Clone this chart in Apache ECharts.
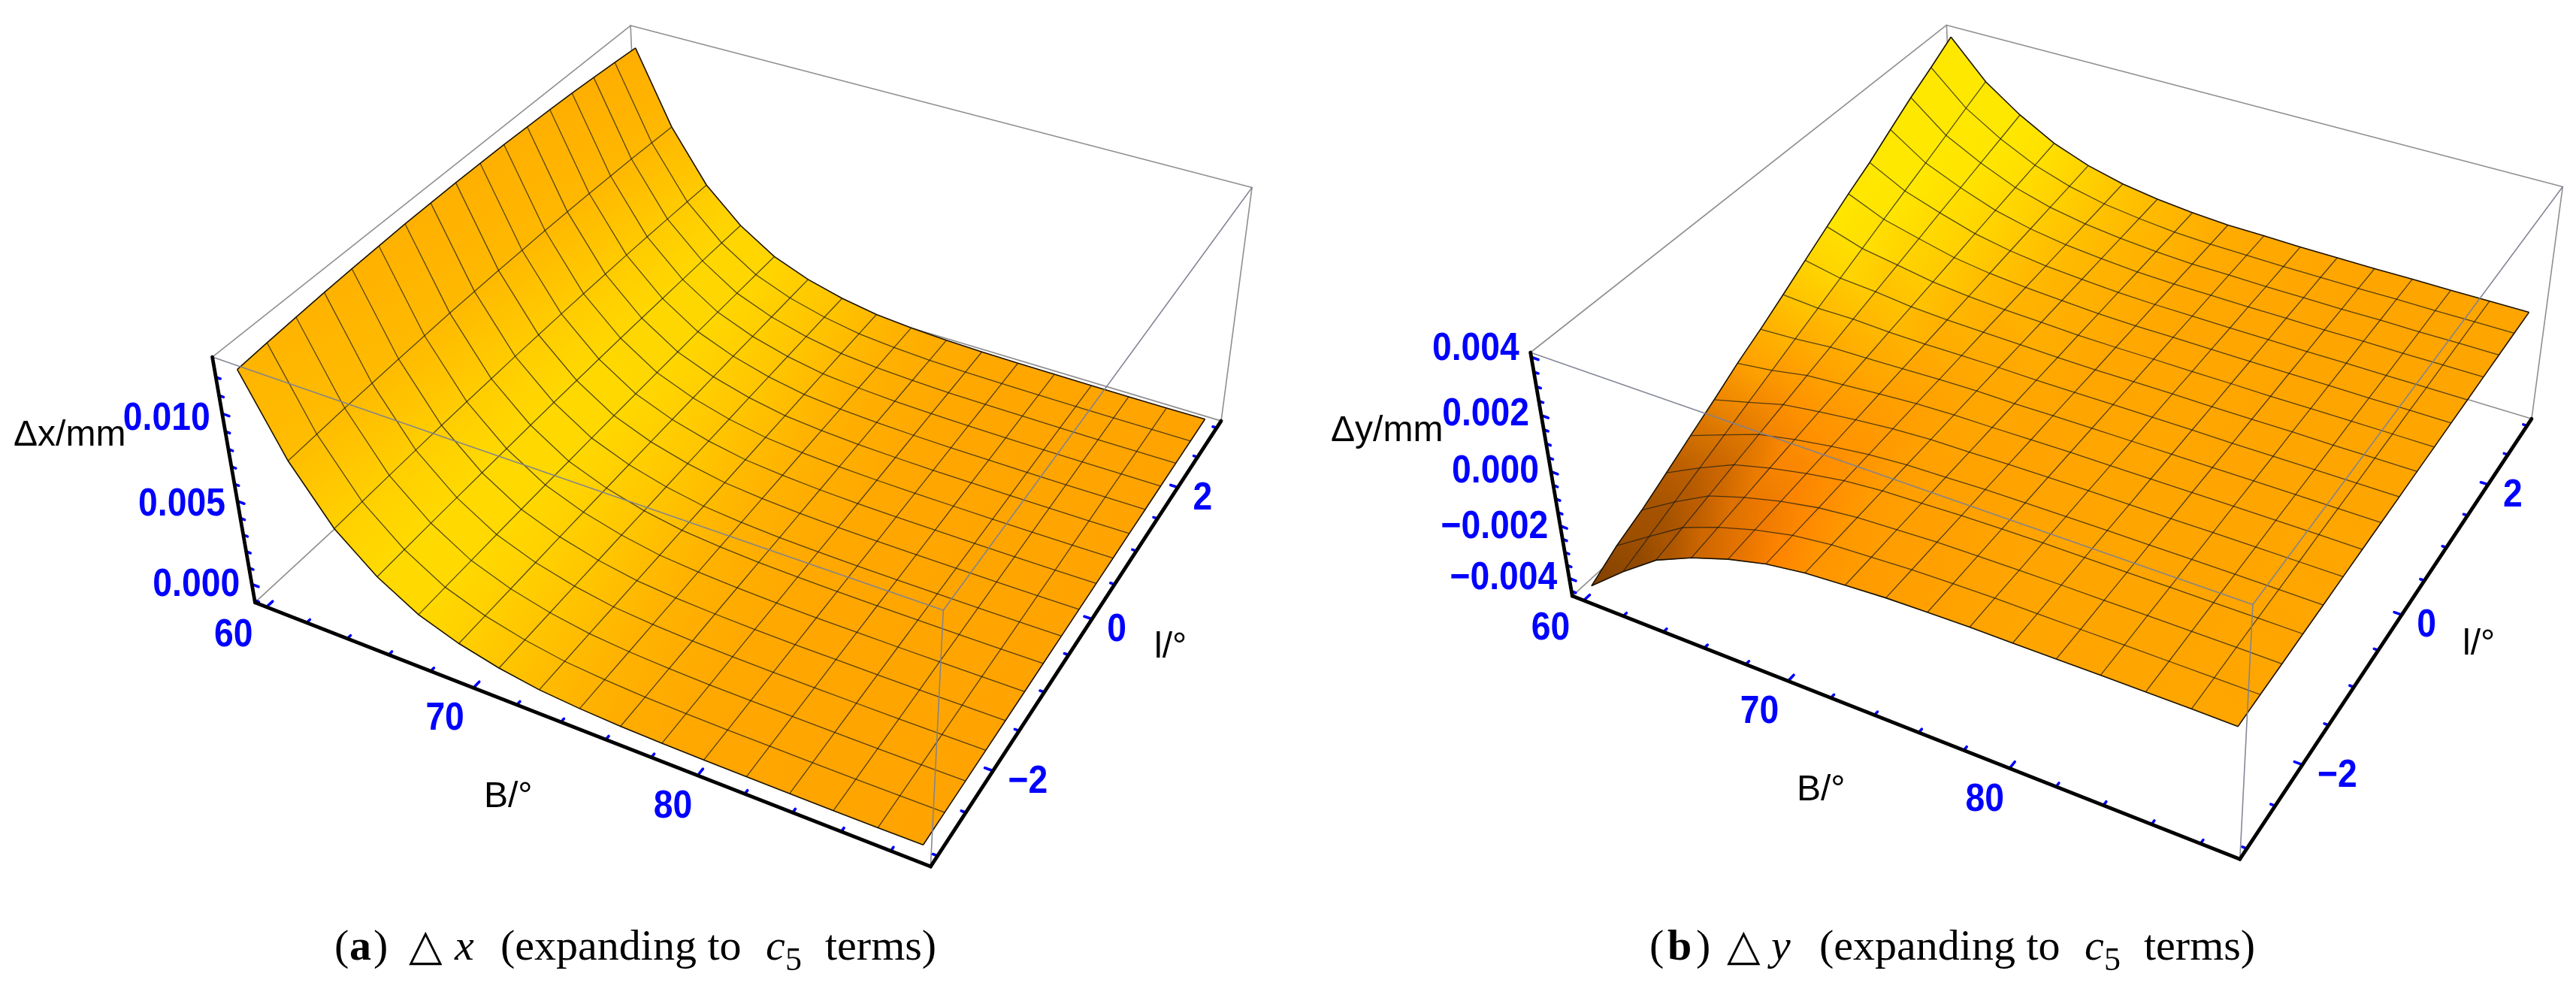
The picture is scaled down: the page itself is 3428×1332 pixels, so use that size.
<!DOCTYPE html>
<html><head><meta charset="utf-8">
<script src="https://cdn.jsdelivr.net/npm/echarts@6/dist/echarts.min.js"></script>
<style>html,body{margin:0;padding:0;background:#fff}#c{width:3428px;height:1332px}</style>
</head><body><div id="c"></div>
<script>
// ---------- DATA ----------
const bGrid = [60,61.8125,63.625,65.4375,67.25,69.0625,70.875,72.6875,74.5,76.3125,78.125,79.9375,81.75,83.5625,85.375,87.1875,89];
const lGrid = [-3,-2.625,-2.25,-1.875,-1.5,-1.125,-0.75,-0.375,0,0.375,0.75,1.125,1.5,1.875,2.25,2.625,3];

// Δx/mm : one row per B in bGrid, one column per l in lGrid
const dxRows = [
[0.01222,0.01235,0.01246,0.01256,0.01263,0.01269,0.01274,0.01276,0.01277,0.01276,0.01274,0.01269,0.01263,0.01256,0.01246,0.01235,0.01222],
[0.00790,0.00799,0.00808,0.00814,0.00820,0.00824,0.00828,0.00829,0.00830,0.00829,0.00828,0.00824,0.00820,0.00814,0.00808,0.00799,0.00790],
[0.00480,0.00487,0.00493,0.00498,0.00503,0.00506,0.00508,0.00510,0.00510,0.00510,0.00508,0.00506,0.00503,0.00498,0.00493,0.00487,0.00480],
[0.00280,0.00285,0.00289,0.00292,0.00295,0.00297,0.00299,0.00300,0.00300,0.00300,0.00299,0.00297,0.00295,0.00292,0.00289,0.00285,0.00280],
[0.00140,0.00143,0.00146,0.00149,0.00151,0.00152,0.00153,0.00154,0.00154,0.00154,0.00153,0.00152,0.00151,0.00149,0.00146,0.00143,0.00140],
[0.00055,0.00057,0.00059,0.00061,0.00063,0.00064,0.00064,0.00065,0.00065,0.00065,0.00064,0.00064,0.00063,0.00061,0.00059,0.00057,0.00055],
[-0.00003,-0.00001,0.00000,0.00001,0.00002,0.00003,0.00003,0.00004,0.00004,0.00004,0.00003,0.00003,0.00002,0.00001,0.00000,-0.00001,-0.00003],
[-0.00042,-0.00041,-0.00040,-0.00040,-0.00039,-0.00039,-0.00038,-0.00038,-0.00038,-0.00038,-0.00038,-0.00039,-0.00039,-0.00040,-0.00040,-0.00041,-0.00042],
[-0.00062,-0.00061,-0.00061,-0.00060,-0.00060,-0.00059,-0.00059,-0.00059,-0.00059,-0.00059,-0.00059,-0.00059,-0.00060,-0.00060,-0.00061,-0.00061,-0.00062],
[-0.00074,-0.00074,-0.00073,-0.00073,-0.00072,-0.00072,-0.00072,-0.00072,-0.00072,-0.00072,-0.00072,-0.00072,-0.00072,-0.00073,-0.00073,-0.00074,-0.00074],
[-0.00080,-0.00080,-0.00080,-0.00079,-0.00079,-0.00079,-0.00079,-0.00079,-0.00079,-0.00079,-0.00079,-0.00079,-0.00079,-0.00079,-0.00080,-0.00080,-0.00080],
[-0.00083,-0.00083,-0.00083,-0.00083,-0.00083,-0.00083,-0.00083,-0.00083,-0.00083,-0.00083,-0.00083,-0.00083,-0.00083,-0.00083,-0.00083,-0.00083,-0.00083],
[-0.00084,-0.00084,-0.00084,-0.00084,-0.00084,-0.00084,-0.00084,-0.00084,-0.00084,-0.00084,-0.00084,-0.00084,-0.00084,-0.00084,-0.00084,-0.00084,-0.00084],
[-0.00085,-0.00085,-0.00085,-0.00085,-0.00085,-0.00085,-0.00085,-0.00085,-0.00085,-0.00085,-0.00085,-0.00085,-0.00085,-0.00085,-0.00085,-0.00085,-0.00085],
[-0.00085,-0.00085,-0.00085,-0.00085,-0.00085,-0.00085,-0.00085,-0.00085,-0.00085,-0.00085,-0.00085,-0.00085,-0.00085,-0.00085,-0.00085,-0.00085,-0.00085],
[-0.00084,-0.00084,-0.00084,-0.00084,-0.00084,-0.00084,-0.00084,-0.00084,-0.00084,-0.00084,-0.00084,-0.00084,-0.00084,-0.00084,-0.00084,-0.00084,-0.00084],
[-0.00082,-0.00082,-0.00082,-0.00082,-0.00082,-0.00082,-0.00082,-0.00082,-0.00082,-0.00082,-0.00082,-0.00082,-0.00082,-0.00082,-0.00082,-0.00082,-0.00082]
];

// Δy/mm
const dyRows = [
[-0.00444,-0.00386,-0.00342,-0.00290,-0.00236,-0.00184,-0.00128,-0.00079,-0.00026,0.00029,0.00083,0.00136,0.00185,0.00242,0.00298,0.00348,0.00401],
[-0.00335,-0.00298,-0.00260,-0.00222,-0.00185,-0.00148,-0.00110,-0.00072,-0.00035,0.00002,0.00040,0.00078,0.00115,0.00152,0.00190,0.00228,0.00265],
[-0.00238,-0.00212,-0.00187,-0.00161,-0.00136,-0.00110,-0.00084,-0.00059,-0.00033,-0.00007,0.00018,0.00044,0.00070,0.00095,0.00121,0.00146,0.00172],
[-0.00176,-0.00159,-0.00142,-0.00124,-0.00107,-0.00090,-0.00073,-0.00056,-0.00039,-0.00022,-0.00005,0.00012,0.00030,0.00047,0.00064,0.00081,0.00098],
[-0.00128,-0.00117,-0.00106,-0.00095,-0.00084,-0.00073,-0.00062,-0.00051,-0.00040,-0.00029,-0.00018,-0.00007,0.00004,0.00015,0.00026,0.00037,0.00048],
[-0.00092,-0.00085,-0.00079,-0.00072,-0.00066,-0.00059,-0.00052,-0.00046,-0.00039,-0.00032,-0.00026,-0.00019,-0.00013,-0.00006,0.00001,0.00007,0.00014],
[-0.00071,-0.00067,-0.00063,-0.00059,-0.00055,-0.00051,-0.00047,-0.00043,-0.00039,-0.00035,-0.00031,-0.00027,-0.00023,-0.00019,-0.00015,-0.00011,-0.00007],
[-0.00061,-0.00059,-0.00056,-0.00054,-0.00051,-0.00049,-0.00046,-0.00044,-0.00041,-0.00039,-0.00036,-0.00034,-0.00031,-0.00029,-0.00026,-0.00024,-0.00021],
[-0.00052,-0.00051,-0.00049,-0.00048,-0.00046,-0.00045,-0.00044,-0.00042,-0.00041,-0.00040,-0.00038,-0.00037,-0.00035,-0.00034,-0.00033,-0.00031,-0.00030],
[-0.00048,-0.00047,-0.00046,-0.00045,-0.00044,-0.00043,-0.00042,-0.00041,-0.00040,-0.00039,-0.00038,-0.00037,-0.00036,-0.00035,-0.00034,-0.00033,-0.00032],
[-0.00045,-0.00044,-0.00044,-0.00043,-0.00043,-0.00042,-0.00042,-0.00041,-0.00040,-0.00039,-0.00039,-0.00038,-0.00038,-0.00037,-0.00037,-0.00036,-0.00035],
[-0.00045,-0.00044,-0.00043,-0.00043,-0.00042,-0.00042,-0.00041,-0.00041,-0.00040,-0.00040,-0.00039,-0.00039,-0.00038,-0.00037,-0.00037,-0.00036,-0.00036],
[-0.00044,-0.00044,-0.00043,-0.00043,-0.00042,-0.00042,-0.00041,-0.00041,-0.00041,-0.00040,-0.00040,-0.00039,-0.00039,-0.00038,-0.00038,-0.00037,-0.00037],
[-0.00043,-0.00043,-0.00042,-0.00042,-0.00041,-0.00041,-0.00040,-0.00040,-0.00040,-0.00039,-0.00039,-0.00038,-0.00038,-0.00037,-0.00037,-0.00036,-0.00036],
[-0.00043,-0.00043,-0.00042,-0.00042,-0.00041,-0.00041,-0.00040,-0.00040,-0.00040,-0.00040,-0.00039,-0.00039,-0.00039,-0.00038,-0.00038,-0.00037,-0.00037],
[-0.00043,-0.00043,-0.00042,-0.00042,-0.00041,-0.00041,-0.00040,-0.00040,-0.00040,-0.00039,-0.00039,-0.00038,-0.00038,-0.00037,-0.00037,-0.00036,-0.00036],
[-0.00044,-0.00043,-0.00043,-0.00042,-0.00042,-0.00041,-0.00041,-0.00040,-0.00040,-0.00039,-0.00039,-0.00038,-0.00038,-0.00037,-0.00037,-0.00036,-0.00036]
];

// Axis ticks and tick labels
const bTicks = [60,62,64,66,68,70,72,74,76,78,80,82,84,86,88];
const bMajor = [60,70,80];
const lTicks = [-3,-2.5,-2,-1.5,-1,-0.5,0,0.5,1,1.5,2,2.5,3];
const lMajor = [-2,0,2];
const dxTicks = [-0.001,0,0.001,0.002,0.003,0.004,0.005,0.006,0.007,0.008,0.009,0.010,0.011,0.012];
const dxMajor = [0,0.005,0.010];
const dxLabels = ['0.000','0.005','0.010'];
const dyTicks = [-0.0045,-0.004,-0.0035,-0.003,-0.0025,-0.002,-0.0015,-0.001,-0.0005,0,0.0005,0.001,0.0015,0.002,0.0025,0.003,0.0035,0.004];
const dyMajor = [-0.004,-0.002,0,0.002,0.004];
const dyLabels = ['\u22120.004','\u22120.002','0.000','0.002','0.004'];

// ---------- LAYOUT (view of each 3D box, in page pixels) ----------
const boxB = [59.42,89.58], boxL = [-3.12,3.12];
const panelA = {
  rows: dxRows, zBox: [-0.00114,0.01309], zTicks: dxTicks, zMajor: dxMajor, zLabels: dxLabels, zLabelDy: [1,5,7],
  view: [[0,0,0,337,801],[1,0,0,1237,1153],[0,1,0,855,330],[1,1,0,1625,559],[0,0,1,285,475],[1,0,1,1257,813],[0,1,1,836,33],[1,1,1,1666,250]],
  names: [['\u0394x/mm',18,580],['B/\u00b0',644,1061],['l/\u00b0',1536,862]]
};
const panelB = {
  rows: dyRows, zBox: [-0.00469,0.00416], zTicks: dyTicks, zMajor: dyMajor, zLabels: dyLabels, zLabelDy: [0,2,0,-1,-11],
  view: [[0,0,0,2090,792],[1,0,0,2980,1143],[0,1,0,2605,328],[1,1,0,3369,556],[0,0,1,2039,469],[1,0,1,2999,806],[0,1,1,2588,32],[1,1,1,3410,249]],
  names: [['\u0394y/mm',1771,574],['B/\u00b0',2391,1052],['l/\u00b0',3277,858]]
};
const bLabelOff = [[-44,38],[-38,41],[-33,42]];

function solve(A,b){
  const n=b.length, M=A.map((r,i)=>r.concat(b[i]));
  for(let c=0;c<n;c++){
    let p=c; for(let r=c+1;r<n;r++) if(Math.abs(M[r][c])>Math.abs(M[p][c])) p=r;
    [M[c],M[p]]=[M[p],M[c]];
    for(let r=0;r<n;r++){ if(r===c) continue; const f=M[r][c]/M[c][c]; for(let k=c;k<=n;k++) M[r][k]-=f*M[c][k]; }
  }
  return M.map((r,i)=>r[n]/r[i]);
}
function fitView(view){
  const N=Array.from({length:11},()=>new Array(11).fill(0)), R=new Array(11).fill(0);
  const add=(row,t)=>{ for(let a=0;a<11;a++){ R[a]+=row[a]*t; for(let b=0;b<11;b++) N[a][b]+=row[a]*row[b]; } };
  view.forEach(([u,v,w,x,y])=>{ x/=1000; y/=1000;
    add([u,v,w,1,0,0,0,0,-x*u,-x*v,-x*w],x);
    add([0,0,0,0,u,v,w,1,-y*u,-y*v,-y*w],y);
  });
  return solve(N,R);
}
[panelA,panelB].forEach(P=>{ P.cam=fitView(P.view); });
function plane(P,B,l,z){
  const u=(B-boxB[0])/(boxB[1]-boxB[0]), v=(l-boxL[0])/(boxL[1]-boxL[0]), w=(z-P.zBox[0])/(P.zBox[1]-P.zBox[0]), c=P.cam;
  const d=c[8]*u+c[9]*v+c[10]*w+1;
  return [1000*(c[0]*u+c[1]*v+c[2]*w+c[3])/d, 1000*(c[4]*u+c[5]*v+c[6]*w+c[7])/d];
}

// shading from the surface normal (box height ratio 0.4)
function shade(P,i,j){
  const r=P.rows, last=bGrid.length-1, zs=0.4/(P.zBox[1]-P.zBox[0]);
  const i0=Math.max(0,i-1), i1=Math.min(last,i+1), j0=Math.max(0,j-1), j1=Math.min(last,j+1);
  const du=(bGrid[i1]-bGrid[i0])/(boxB[1]-boxB[0]), dv=(lGrid[j1]-lGrid[j0])/(boxL[1]-boxL[0]);
  const pu=(r[i1][j]-r[i0][j])*zs/du, pv=(r[i][j1]-r[i][j0])*zs/dv;
  const len=Math.hypot(pu,pv,1), nu=-pu/len, nv=-pv/len, nz=1/len;
  let R=255+300*Math.min(0,nu+0.2);
  let G=170*nu+251*nz-117*nv-86;
  G=Math.max(G,R*0.5); G=Math.min(G,232);
  return [R,G];
}
const rgb=c=>`rgb(${Math.round(c[0])},${Math.round(c[1])},0)`;
const avg=(a,b)=>[(a[0]+b[0])/2,(a[1]+b[1])/2];

function custom(name,items,draw){
  return {type:'custom',name,coordinateSystem:'cartesian2d',silent:true,animation:false,clip:false,
    data:items.map((_,k)=>[k,k]),renderItem:(p,api)=>draw(items[p.dataIndex],api)};
}
function seriesFor(P){
  const pt=(api,B,l,z)=>api.coord(plane(P,B,l,z));
  const corner=(api,a)=>pt(api,boxB[a[0]],boxL[a[1]],P.zBox[a[2]]);
  const seg=(list,stroke,width)=>custom('box',list,(e,api)=>({type:'line',
      shape:(()=>{const a=corner(api,e[0]),b=corner(api,e[1]);return {x1:a[0],y1:a[1],x2:b[0],y2:b[1]};})(),
      style:{stroke,lineWidth:width,lineCap:'round'}}));
  const A=[0,0,0],Bc=[1,0,0],C=[0,1,0],D=[1,1,0],E=[0,0,1],F=[1,0,1],G=[0,1,1],H=[1,1,1];
  const back=seg([[E,G],[G,H],[H,D],[A,C],[C,D],[G,C]],'#8f8f8f',1.6);
  const front=seg([[E,F],[F,H],[F,Bc]],'rgba(125,130,145,0.95)',1.6);
  const axes=seg([[E,A],[A,Bc],[Bc,D]],'#000',4.8);

  const colours=P.rows.map((r,i)=>r.map((_,j)=>shade(P,i,j)));
  const cells=[]; for(let i=0;i<16;i++) for(let j=0;j<16;j++) cells.push([i,j]);
  const surface=custom('surface',cells,([i,j],api)=>{
    const q=(a,b)=>pt(api,bGrid[a],lGrid[b],P.rows[a][b]);
    const p00=q(i,j),p10=q(i+1,j),p01=q(i,j+1),p11=q(i+1,j+1);
    const c=colours;
    const u0=avg(c[i][j],c[i][j+1]),u1=avg(c[i+1][j],c[i+1][j+1]),v0=avg(c[i][j],c[i+1][j]),v1=avg(c[i][j+1],c[i+1][j+1]);
    const useU=Math.abs(u0[1]-u1[1])>=Math.abs(v0[1]-v1[1]);
    const s=useU?avg(p00,p01):avg(p00,p10), e=useU?avg(p10,p11):avg(p01,p11);
    const cs=useU?u0:v0, ce=useU?u1:v1;
    const fill=new echarts.graphic.LinearGradient(s[0],s[1],e[0],e[1],[{offset:0,color:rgb(cs)},{offset:1,color:rgb(ce)}],true);
    return {type:'polygon',shape:{points:[p00,p10,p11,p01]},style:{fill,stroke:rgb(avg(cs,ce)),lineWidth:1}};
  });
  const lines=[];
  for(let j=1;j<16;j++) lines.push(bGrid.map((_,i)=>[i,j]));
  for(let i=1;i<16;i++) lines.push(lGrid.map((_,j)=>[i,j]));
  const nodeXY=(api,n)=>pt(api,bGrid[n[0]],lGrid[n[1]],P.rows[n[0]][n[1]]);
  const mesh=custom('mesh',lines,(L,api)=>({type:'polyline',shape:{points:L.map(n=>nodeXY(api,n))},
      style:{fill:null,stroke:'rgba(25,25,20,0.72)',lineWidth:1.3}}));
  const rim=[bGrid.map((_,i)=>[i,0]),bGrid.map((_,i)=>[i,16]),lGrid.map((_,j)=>[0,j]),lGrid.map((_,j)=>[16,j])];
  const edge=custom('edge',rim,(L,api)=>({type:'polyline',shape:{points:L.map(n=>nodeXY(api,n))},
      style:{fill:null,stroke:'#1a1200',lineWidth:1.6}}));

  // ticks: [from, to] as data triples
  const tB=boxB[0], tL=boxL[0], tZ=P.zBox[0];
  const dB=boxB[1]-boxB[0], dL=boxL[1]-boxL[0];
  const ticks=[];
  bTicks.forEach(b=>{const k=bMajor.includes(b)?0.013:0.007; ticks.push([[b,tL,tZ],[b,tL+k*dL,tZ]]);});
  lTicks.forEach(l=>{const k=lMajor.includes(l)?0.011:0.006; ticks.push([[boxB[1],l,tZ],[boxB[1]-k*dB,l,tZ]]);});
  P.zTicks.forEach(z=>{const k=P.zMajor.includes(z)?0.011:0.007; ticks.push([[tB,tL,z],[tB+k*dB,tL,z]]);});
  const tick=custom('ticks',ticks,(t,api)=>{const a=pt(api,...t[0]),b=pt(api,...t[1]);
    return {type:'line',shape:{x1:a[0],y1:a[1],x2:b[0],y2:b[1]},style:{stroke:'#0000ff',lineWidth:3.6,lineCap:'round'}};});

  const blue='bold 52px "Liberation Sans", Arial, sans-serif';
  const labels=[];
  bMajor.forEach((b,k)=>labels.push({txt:String(b),at:[b,tL,tZ],dx:bLabelOff[k][0],dy:bLabelOff[k][1],align:'center'}));
  lMajor.forEach(l=>labels.push({txt:l<0?'\u2212'+(-l):String(l),at:[boxB[1],l,tZ],dx:20,dy:15,align:'left'}));
  P.zMajor.forEach((z,k)=>labels.push({txt:P.zLabels[k],at:[tB,tL,z],dx:-16,dy:P.zLabelDy[k],align:'right'}));
  const tickText=custom('tickLabels',labels,(d,api)=>{const a=pt(api,...d.at);
    return {type:'text',x:a[0]+d.dx,y:a[1]+d.dy,scaleX:0.89,style:{text:d.txt,x:0,y:0,font:blue,fill:'#0000ff',align:d.align,verticalAlign:'middle'}};});
  const nameText=custom('axisNames',P.names,(d,api)=>{const a=api.coord([d[1],d[2]]);
    return {type:'text',style:{text:d[0],x:a[0],y:a[1],font:'48px "Liberation Sans", Arial, sans-serif',fill:'#000',align:'left',verticalAlign:'middle'}};});
  return [back,surface,mesh,edge,front,tick,axes,tickText,nameText];
}

// captions
const S='"Liberation Serif","DejaVu Serif",serif';
const capY=1267;
const capFont='58px '+S, capBold='bold 58px '+S, capIt='italic 58px '+S;
const captions=[
 ['(',445,capFont],['a',465,capBold],[')',497,capFont],['\u25b3',544,'58px "DejaVu Sans"'],['x',605,capIt],['(expanding to',666,capFont],['c',1019,capIt],['terms)',1098,capFont],
 ['(',2195,capFont],['b',2219,capBold],[')',2257,capFont],['\u25b3',2298,'58px "DejaVu Sans"'],['y',2357,capIt],['(expanding to',2421,capFont],['c',2774,capIt],['terms)',2853,capFont]
];
const subs=[['5',1045],['5',2800]];
const graphic=captions.map(c=>({type:'text',left:c[1],top:capY-34,style:{text:c[0],font:c[2],fill:'#000'}}))
  .concat(subs.map(s=>({type:'text',left:s[1],top:capY-10,style:{text:s[0],font:'44px '+S,fill:'#000'}})));

const chart=echarts.init(document.getElementById('c'),null,{renderer:'canvas'});
chart.setOption({
  backgroundColor:'#fff',animation:false,
  grid:{left:0,right:0,top:0,bottom:0},
  xAxis:{type:'value',min:0,max:3428,show:false},
  yAxis:{type:'value',min:0,max:1332,inverse:true,show:false},
  graphic,
  series:[...seriesFor(panelA),...seriesFor(panelB)]
});
</script></body></html>
